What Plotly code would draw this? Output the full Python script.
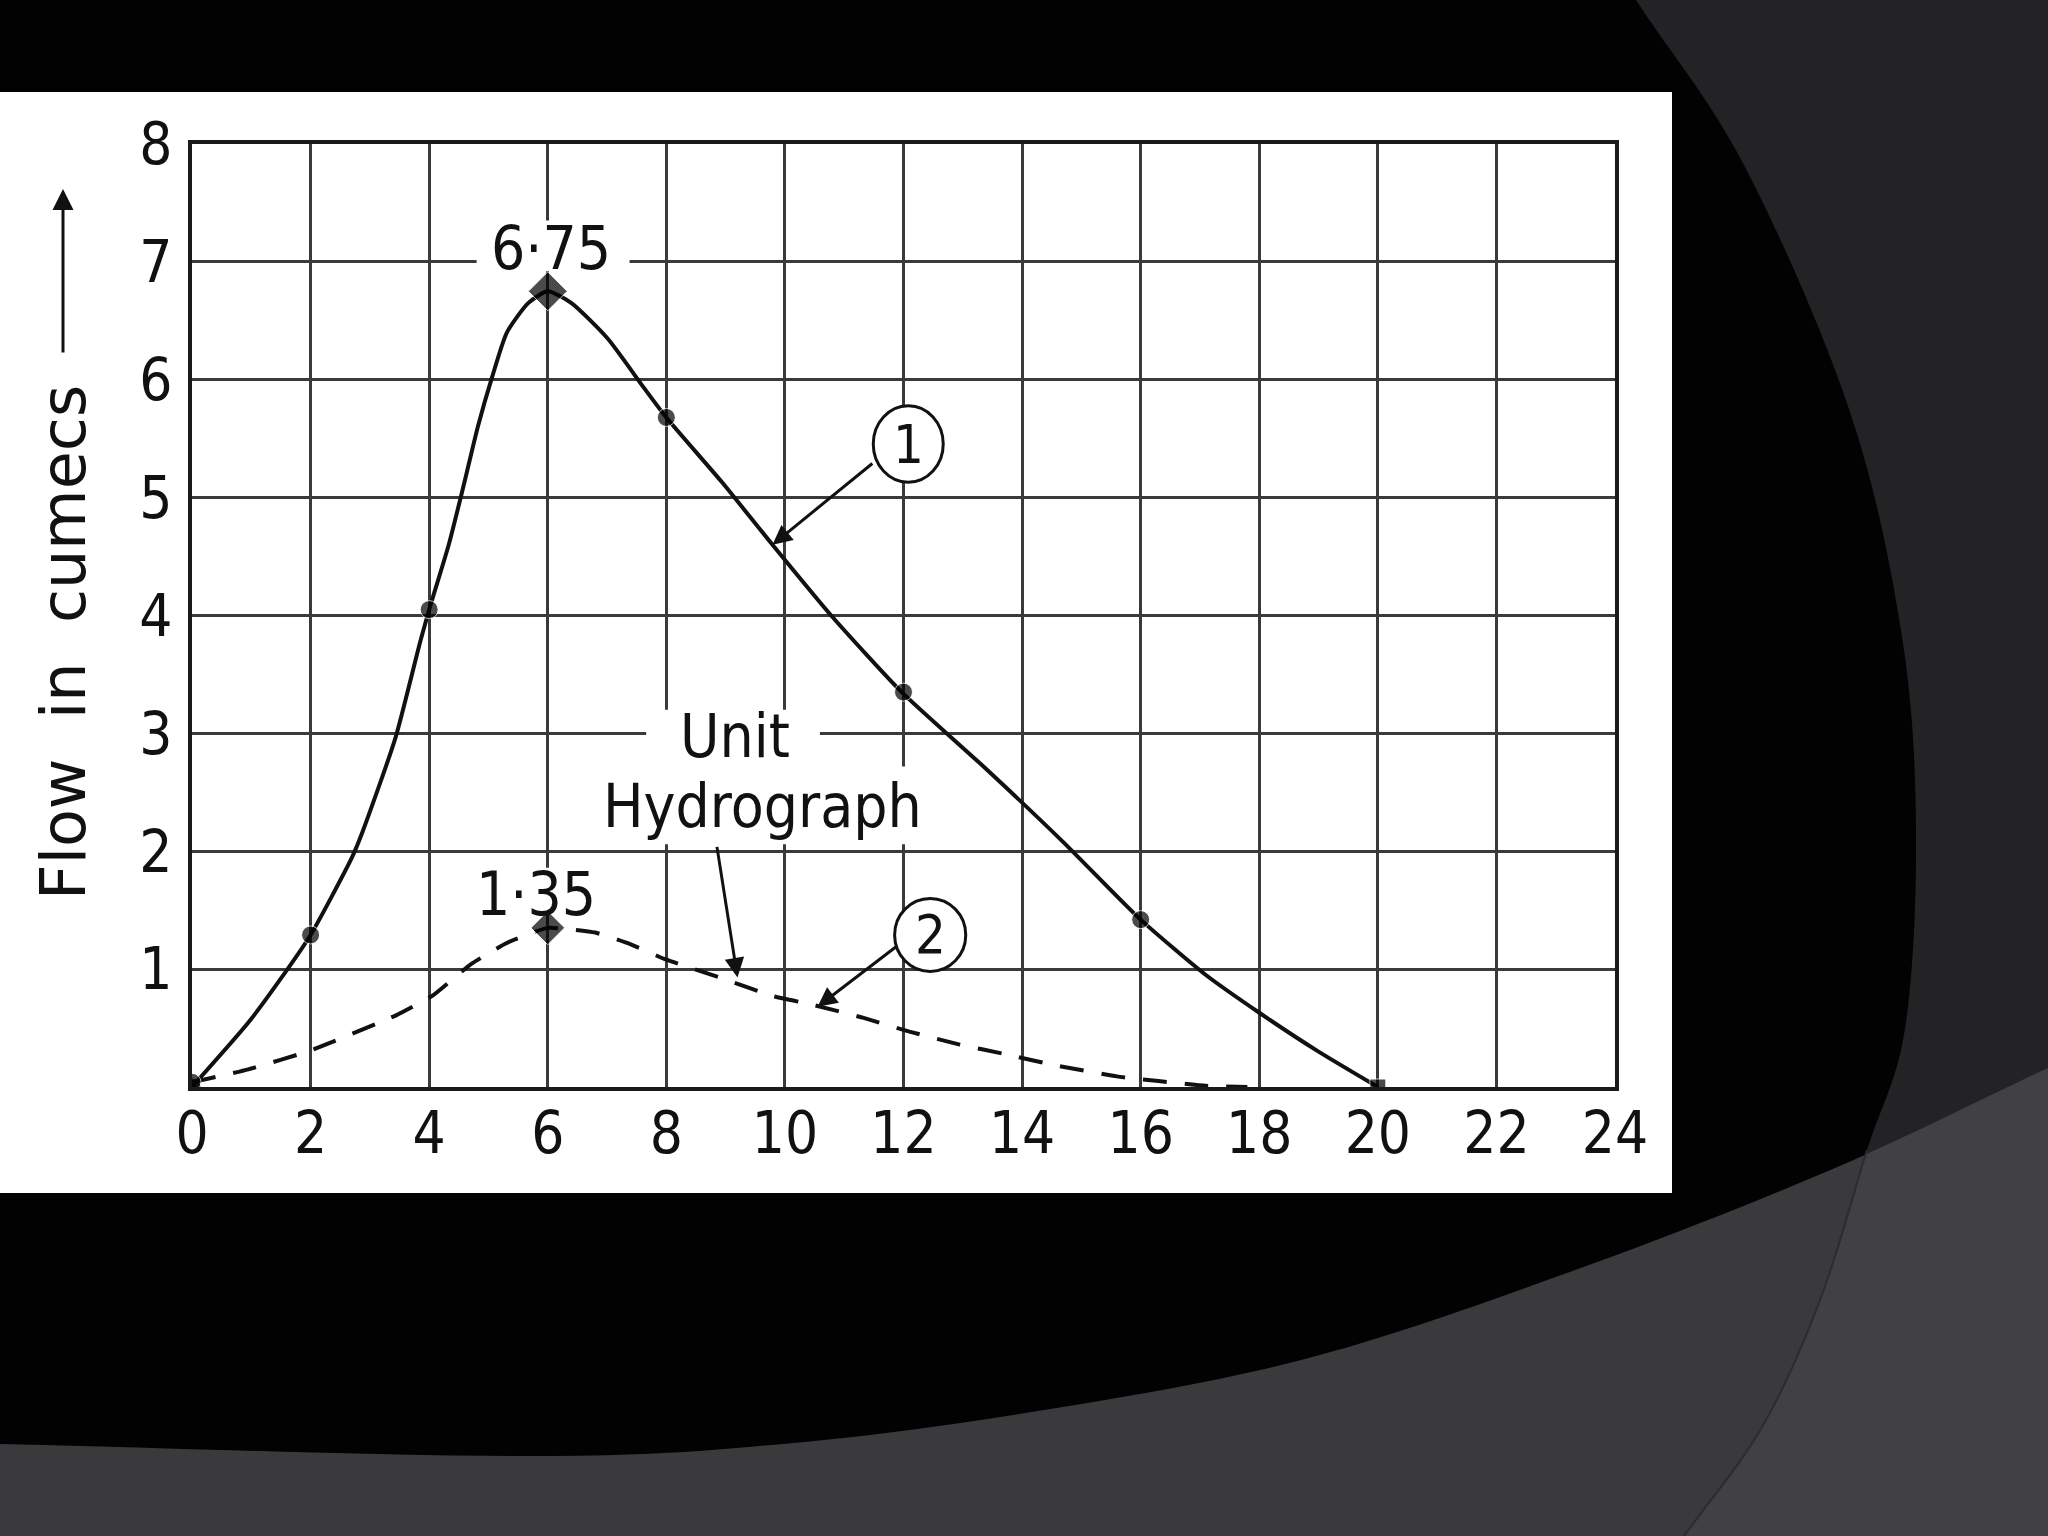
import numpy as np
import plotly.graph_objects as go

# Direct runoff hydrograph (curve 1)
DRH_X = [0, 0.94, 1.47, 2.0, 2.7, 2.88, 3.43, 3.85, 4.0, 4.33, 4.58, 4.82, 5.06, 5.31, 5.67, 6.0,
         6.4, 7.01, 7.61, 8.0, 8.94, 9.79, 10.78, 11.97, 13.39, 14.69, 16.0, 17.1, 18.0, 19.0, 20.0]
DRH_Y = [0, 0.54, 0.9, 1.29, 1.95, 2.17, 2.96, 3.78, 4.05, 4.6, 5.1, 5.6, 6.02, 6.4, 6.65, 6.75,
         6.65, 6.35, 5.94, 5.68, 5.13, 4.6, 4.0, 3.35, 2.7, 2.08, 1.42, 0.95, 0.63, 0.3, 0]
DRH_PTS_X = [0, 2, 4, 6, 8, 12, 16, 20]
DRH_PTS_Y = [0, 1.29, 4.05, 6.75, 5.68, 3.35, 1.42, 0]

# Unit hydrograph (curve 2, dashed)
UH_X = [0, 0.95, 2.0, 3.45, 4.07, 4.7, 5.3, 6.0, 6.8, 7.4, 8.0, 8.95, 9.8, 10.45, 11.3, 12.1,
        12.95, 13.7, 14.6, 15.6, 16.3, 17.1, 17.8]
UH_Y = [0.04, 0.15, 0.31, 0.61, 0.78, 1.04, 1.22, 1.35, 1.31, 1.21, 1.08, 0.92, 0.77, 0.70, 0.59,
        0.47, 0.36, 0.28, 0.18, 0.09, 0.05, 0.01, 0.0]
UH_PTS_X = [0, 6]
UH_PTS_Y = [0.04, 1.35]

X_TICKS = list(range(0, 25, 2))
Y_TICKS = list(range(1, 9))

W, H = 2048, 1536
PX0, PX1 = 192, 1615   # plot area left/right in pixels
PY0, PY1 = 1087, 144   # plot area bottom/top in pixels

FONT_NARROW = "DejaVu Sans Condensed, Liberation Sans Narrow, Roboto Condensed, DejaVu Sans, sans-serif"
INK = "#111111"
GRID = "#3a3a3a"


def px(x):
    return (x - PX0) / (PX1 - PX0)


def py(y):
    return (PY0 - y) / (PY0 - PY1)


def smooth(points, n=12):
    # catmull-rom through the outline points of the background swooshes
    pts = np.array(points, dtype=float)
    ext = np.vstack([pts[0] * 2 - pts[1], pts, pts[-1] * 2 - pts[-2]])
    out = []
    for i in range(1, len(ext) - 2):
        p0, p1, p2, p3 = ext[i - 1], ext[i], ext[i + 1], ext[i + 2]
        for t in np.linspace(0, 1, n, endpoint=False):
            out.append(0.5 * ((2 * p1) + (-p0 + p2) * t + (2 * p0 - 5 * p1 + 4 * p2 - p3) * t ** 2
                              + (-p0 + 3 * p1 - 3 * p2 + p3) * t ** 3))
    out.append(pts[-1])
    return out


def path_str(points, close=True):
    s = "M " + " L ".join(f"{px(x):.5f},{py(y):.5f}" for x, y in points)
    return s + (" Z" if close else "")


def blank(x0, x1, y0, y1):
    # white patch that hides the grid behind a label (under the curves)
    return dict(type="rect", x0=x0, x1=x1, y0=y0, y1=y1, fillcolor="white", line=dict(width=0),
                xref="x", yref="y", layer="between")


ellipse_edge = [(1636, 0), (1745, 167), (1850, 412), (1902, 637), (1916, 833), (1905, 1029),
                (1867, 1150), (1820, 1300), (1762, 1427), (1684, 1536)]
band_edge = [(0, 1444), (522, 1456), (783, 1444), (1044, 1410), (1305, 1359), (1567, 1273),
             (1828, 1171), (2048, 1068)]

ell = smooth(ellipse_edge)
band = smooth(band_edge)
ell_low = [p for p in ell if p[1] >= 1150]
band_right = [p for p in band if p[0] >= 1867][::-1]

shapes = [
    dict(type="path", path=path_str(ell + [(2048, 1536), (2048, 0)]), fillcolor="#232325",
         line=dict(width=0), xref="paper", yref="paper", layer="below"),
    dict(type="path", path=path_str(band + [(2048, 1536), (0, 1536)]), fillcolor="#3a393c",
         line=dict(width=0), xref="paper", yref="paper", layer="below"),
    dict(type="path", path=path_str(ell_low + [(2048, 1536)] + band_right), fillcolor="#414043",
         line=dict(width=0), xref="paper", yref="paper", layer="below"),
    dict(type="path", path=path_str(ell_low, close=False), line=dict(color="#2c2b2e", width=2),
         xref="paper", yref="paper", layer="below"),
    dict(type="rect", x0=px(0), x1=px(1672), y0=py(1193), y1=py(92), fillcolor="white",
         line=dict(width=0), xref="paper", yref="paper", layer="below"),
    blank(4.8, 7.38, 6.92, 7.35),     # 6·75
    blank(5.15, 6.45, 1.46, 1.86),    # 1·35
    blank(7.66, 10.59, 2.7, 3.2),     # Unit
    blank(6.8, 12.45, 2.06, 2.72),    # Hydrograph
    # circled curve numbers
    dict(type="circle", x0=11.49, x1=12.67, y0=5.13, y1=5.78, fillcolor="white",
         line=dict(color=INK, width=3), xref="x", yref="y", layer="above"),
    dict(type="circle", x0=11.85, x1=13.05, y0=0.98, y1=1.6, fillcolor="white",
         line=dict(color=INK, width=3), xref="x", yref="y", layer="above"),
]

fig = go.Figure()

fig.add_trace(go.Scatter(x=DRH_X, y=DRH_Y, mode="lines", line=dict(color=INK, width=4, shape="spline", smoothing=0.6),
                         hoverinfo="skip", showlegend=False))
fig.add_trace(go.Scatter(x=DRH_PTS_X, y=DRH_PTS_Y, mode="markers",
                         marker=dict(color="#000000", size=[18, 18, 18, 30, 18, 18, 18, 16],
                                     symbol=["circle", "circle", "circle", "diamond", "circle", "circle", "circle", "square"]),
                         showlegend=False))
fig.add_trace(go.Scatter(x=UH_X, y=UH_Y, mode="lines",
                         line=dict(color=INK, width=4, dash="24px,18px", shape="spline", smoothing=0.4),
                         hoverinfo="skip", showlegend=False))
fig.add_trace(go.Scatter(x=UH_PTS_X, y=UH_PTS_Y, mode="markers",
                         marker=dict(color="#000000", size=[18, 26], symbol=["circle", "diamond"]), showlegend=False))

label_font = dict(family=FONT_NARROW, size=60, color=INK)
arrow = dict(showarrow=True, arrowhead=2, arrowsize=1.3, arrowwidth=3, arrowcolor=INK, axref="x", ayref="y", standoff=0)

annotations = [
    dict(x=6.05, y=7.12, text="6·75", showarrow=False, font=label_font),
    dict(x=5.8, y=1.64, text="1·35", showarrow=False, font=label_font),
    dict(x=9.15, y=2.98, text="Unit", showarrow=False, font=label_font),
    dict(x=9.62, y=2.38, text="Hydrograph", showarrow=False, font=label_font),
    dict(x=12.08, y=5.45, text="1", showarrow=False, font=dict(family=FONT_NARROW, size=54, color=INK)),
    dict(x=12.45, y=1.29, text="2", showarrow=False, font=dict(family=FONT_NARROW, size=54, color=INK)),
    dict(x=9.79, y=4.6, ax=11.5, ay=5.3, text="", **arrow),
    dict(x=10.55, y=0.68, ax=11.9, ay=1.2, text="", **arrow),
    dict(x=9.2, y=0.93, ax=8.85, ay=2.05, text="", **arrow),
    # y axis title with its upward arrow
    dict(x=px(63), y=py(643), xref="paper", yref="paper", xanchor="center", yanchor="middle",
         text="Flow  in  cumecs", textangle=-90, showarrow=False,
         font=dict(family="DejaVu Sans, sans-serif", size=62, color=INK)),
    dict(x=px(63), y=py(189), xref="paper", yref="paper", ax=0, ay=165, axref="pixel", ayref="pixel",
         text="", showarrow=True, arrowhead=2, arrowsize=1.4, arrowwidth=3, arrowcolor=INK, standoff=0),
]

axis_common = dict(showgrid=True, gridcolor=GRID, gridwidth=3, zeroline=False, showline=True, mirror=True,
                   linecolor="#1a1a1a", linewidth=4, ticks="", tickfont=dict(family=FONT_NARROW, size=58, color=INK),
                   fixedrange=True)

fig.update_layout(
    width=W, height=H, autosize=False,
    margin=dict(l=PX0, r=W - PX1, t=PY1, b=H - PY0, pad=0),
    paper_bgcolor="#020203", plot_bgcolor="rgba(0,0,0,0)",
    xaxis=dict(range=[0, 24], tickvals=X_TICKS, ticklabelstandoff=-8, **axis_common),
    yaxis=dict(range=[0, 8], tickvals=Y_TICKS, ticklabelstandoff=4, **axis_common),
    shapes=shapes, annotations=annotations, showlegend=False,
)

fig.write_html("out.html", config={"displayModeBar": False},
               post_script="document.body.style.margin='0';document.body.style.background='#020203';")
